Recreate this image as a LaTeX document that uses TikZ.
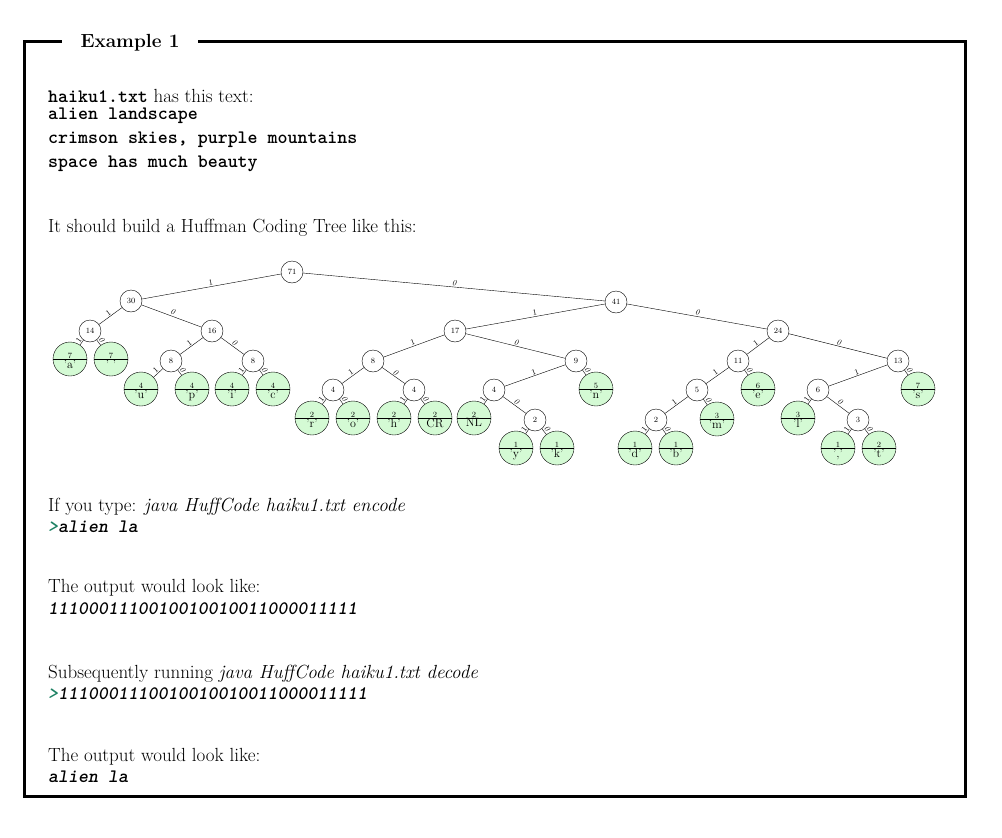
\documentclass[tikz,border=0pt]{standalone}
\usepackage{fontspec}
\usetikzlibrary{shapes.multipart}
\definecolor{leafg}{RGB}{212,250,212}
\definecolor{prompt}{RGB}{30,130,100}
\begin{document}
\begin{tikzpicture}[x=1pt,y=-1pt,
  txt/.style={anchor=west,inner sep=0pt,font=\fontsize{19}{23}\selectfont},
  tt/.style={anchor=west,inner sep=0pt,font=\fontsize{19}{23}\selectfont\ttfamily\bfseries},
  inn/.style={circle,draw,fill=white,minimum size=22pt,inner sep=0pt,font=\fontsize{8}{9}\selectfont},
  lf/.style={circle split,draw,fill=leafg,minimum size=34pt,inner sep=0.5pt,font=\fontsize{8}{9}\selectfont},
  el/.style={sloped,above,inner sep=1pt,font=\fontsize{8}{9}\selectfont}]
\useasboundingbox (0,0) rectangle (1002,838);
\draw[line width=3pt] (24,41) rectangle (965,796);
\node[fill=white,inner sep=0pt,minimum width=136pt,minimum height=12pt,font=\fontsize{19}{23}\selectfont\bfseries] (title) at (130,43) {Example 1};
\node[txt] (t1) at (48,96) {{\ttfamily\bfseries haiku1.txt} has this text:};
\node[tt] (t2) at (48,116) {alien landscape};
\node[tt] (t3) at (48,140) {crimson skies, purple mountains};
\node[tt] (t4) at (48,164) {space has much beauty};
\node[txt] (t5) at (48,228) {It should build a Huffman Coding Tree like this:};
% tree
\newcommand{\LF}[4]{\node[lf] (#1) at (#2) {#3\nodepart{lower}\fontsize{12}{13}\selectfont #4};}
\node[inn] (n71) at (292,272) {71};
\node[inn] (n30) at (131,301) {30};
\node[inn] (n41) at (616,302) {41};
\node[inn] (n14) at (90,331) {14};
\node[inn] (n16) at (212,331) {16};
\node[inn] (n17) at (455,331) {17};
\node[inn] (n24) at (778,331) {24};
\LF{la}{70,359}{7}{'a'}
\LF{lsp}{111,359}{7}{' '}
\node[inn] (n8a) at (171,361) {8};
\node[inn] (n8b) at (253,361) {8};
\LF{lu}{141,389}{4}{'u'}
\LF{lp}{192,389}{4}{'p'}
\LF{li}{232,389}{4}{'i'}
\LF{lc}{273,389}{4}{'c'}
\node[inn] (n8c) at (373,361) {8};
\node[inn] (n9) at (576,361) {9};
\node[inn] (n4a) at (333,390) {4};
\node[inn] (n4b) at (414,390) {4};
\LF{lr}{312,418}{2}{'r'}
\LF{lo}{353,418}{2}{'o'}
\LF{lh}{394,418}{2}{'h'}
\LF{lcr}{435,418}{2}{CR}
\node[inn] (n4c) at (494,390) {4};
\LF{ln}{596,389}{5}{'n'}
\LF{lnl}{474,418}{2}{NL}
\node[inn] (n2a) at (535,420) {2};
\LF{ly}{516,448}{1}{'y'}
\LF{lk}{557,448}{1}{'k'}
\node[inn] (n11) at (738,361) {11};
\node[inn] (n13) at (898,361) {13};
\node[inn] (n5) at (697,390) {5};
\LF{le}{758,389}{6}{'e'}
\node[inn] (n2b) at (656,420) {2};
\LF{lm}{717,419}{3}{'m'}
\LF{ld}{635,448}{1}{'d'}
\LF{lb}{676,448}{1}{'b'}
\node[inn] (n6) at (818,390) {6};
\LF{ls}{918,389}{7}{'s'}
\LF{ll}{798,418}{3}{'l'}
\node[inn] (n3) at (858,420) {3};
\LF{lcm}{838,448}{1}{','}
\LF{lt}{879,448}{2}{'t'}
\newcommand{\E}[4]{\draw (#1) -- node[el,pos=#4]{#3} (#2);}
\newcommand{\one}{1}\newcommand{\zer}{\textit{0}}
\E{n71}{n30}{\one}{0.5}\E{n71}{n41}{\zer}{0.5}
\E{n30}{n14}{\one}{0.5}\E{n30}{n16}{\zer}{0.5}
\E{n41}{n17}{\one}{0.5}\E{n41}{n24}{\zer}{0.5}
\E{n14}{la}{\one}{0.5}\E{n14}{lsp}{\zer}{0.5}
\E{n16}{n8a}{\one}{0.5}\E{n16}{n8b}{\zer}{0.5}
\E{n8a}{lu}{\one}{0.5}\E{n8a}{lp}{\zer}{0.5}
\E{n8b}{li}{\one}{0.5}\E{n8b}{lc}{\zer}{0.5}
\E{n17}{n8c}{\one}{0.5}\E{n17}{n9}{\zer}{0.5}
\E{n8c}{n4a}{\one}{0.5}\E{n8c}{n4b}{\zer}{0.5}
\E{n4a}{lr}{\one}{0.5}\E{n4a}{lo}{\zer}{0.5}
\E{n4b}{lh}{\one}{0.5}\E{n4b}{lcr}{\zer}{0.5}
\E{n9}{n4c}{\one}{0.5}\E{n9}{ln}{\zer}{0.5}
\E{n4c}{lnl}{\one}{0.5}\E{n4c}{n2a}{\zer}{0.5}
\E{n2a}{ly}{\one}{0.5}\E{n2a}{lk}{\zer}{0.5}
\E{n24}{n11}{\one}{0.5}\E{n24}{n13}{\zer}{0.5}
\E{n11}{n5}{\one}{0.5}\E{n11}{le}{\zer}{0.5}
\E{n5}{n2b}{\one}{0.5}\E{n5}{lm}{\zer}{0.5}
\E{n2b}{ld}{\one}{0.5}\E{n2b}{lb}{\zer}{0.5}
\E{n13}{n6}{\one}{0.5}\E{n13}{ls}{\zer}{0.5}
\E{n6}{ll}{\one}{0.5}\E{n6}{n3}{\zer}{0.5}
\E{n3}{lcm}{\one}{0.5}\E{n3}{lt}{\zer}{0.5}
% bottom text
\node[txt] (b1) at (48,507) {If you type: \textit{java HuffCode haiku1.txt encode}};
\node[tt] (b2) at (48,527) {\itshape\textcolor{prompt}{>}alien la};
\node[txt] (b3) at (48,588) {The output would look like:};
\node[tt] (b4) at (48,609) {\itshape 1110001110010010010011000011111};
\node[txt] (b5) at (48,674) {Subsequently running \textit{java HuffCode haiku1.txt decode}};
\node[tt] (b6) at (48,694) {\itshape\textcolor{prompt}{>}1110001110010010010011000011111};
\node[txt] (b7) at (48,757) {The output would look like:};
\node[tt] (b8) at (48,777) {\itshape alien la};
\end{tikzpicture}
\end{document}
